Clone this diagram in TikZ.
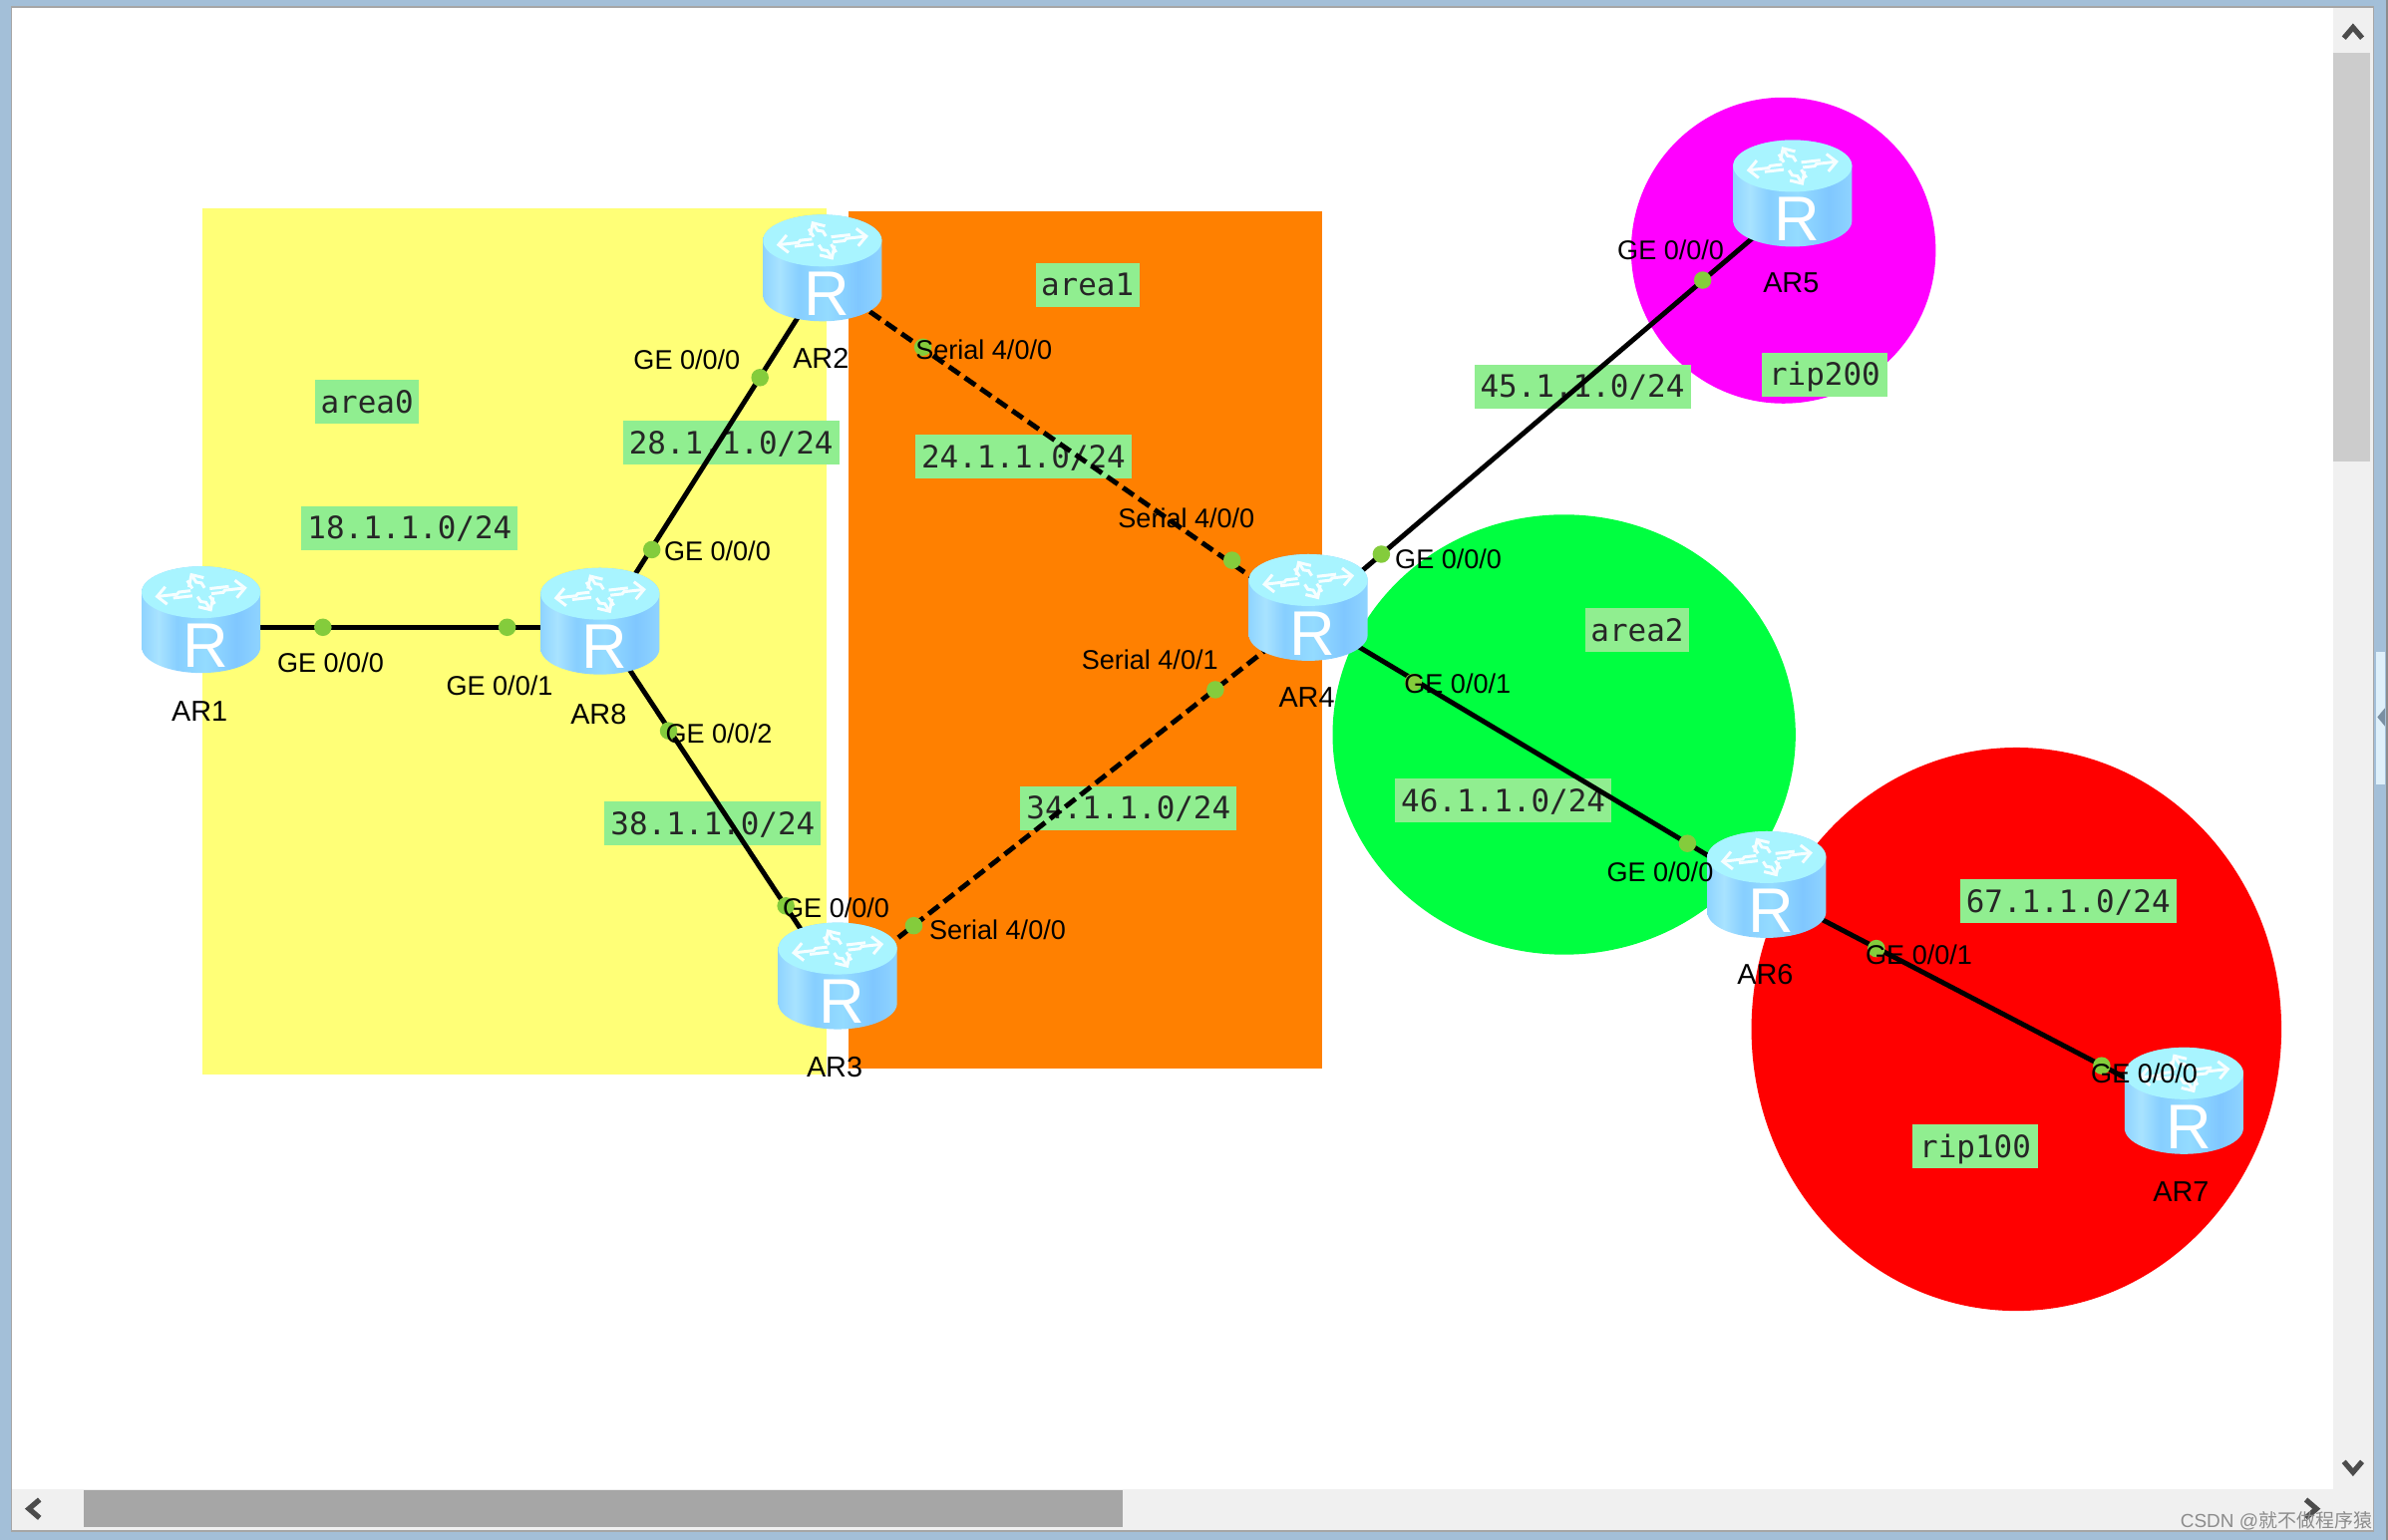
\documentclass[tikz,border=0pt]{standalone}
\usepackage{fontspec}
\setmainfont{Liberation Sans}
\newfontfamily\labelfont{DejaVu Sans Mono}
\newfontfamily\cjk{Noto Sans CJK SC}
\usetikzlibrary{arrows.meta}
\definecolor{framecol}{HTML}{A3BFD8}
\definecolor{trackcol}{HTML}{F0F0F0}
\definecolor{areayellow}{HTML}{FFFF77}
\definecolor{areaorange}{HTML}{FF8000}
\definecolor{areagreen}{HTML}{00FF40}
\definecolor{areamagenta}{HTML}{FF00FF}
\definecolor{areared}{HTML}{FF0000}
\definecolor{labelgreen}{HTML}{90EE90}
\definecolor{portgreen}{HTML}{84CC3C}
\definecolor{routertop}{HTML}{A8F4FF}
\definecolor{gripcol}{HTML}{DFF0FA}
\pgfdeclarehorizontalshading{routerbody}{100bp}{rgb(0bp)=(0.56,0.83,1);rgb(25bp)=(0.56,0.83,1);rgb(32bp)=(0.66,0.89,1);rgb(40bp)=(0.53,0.81,1);rgb(52bp)=(0.58,0.86,1);rgb(65bp)=(0.50,0.78,1);rgb(75bp)=(0.56,0.83,1);rgb(100bp)=(0.56,0.83,1)}
\tikzset{
  routerbox/.style={minimum width=1.15cm,minimum height=1.05cm,inner sep=0pt},
  netlabel/.style={fill=labelgreen,font=\labelfont\fontsize{8.8}{10}\selectfont,inner sep=0pt,minimum height=0.44cm,text height=6.5pt,text depth=0.3pt,text=black!85},
  portdot/.style={circle,fill=portgreen,inner sep=0pt,minimum size=0.175cm},
  portname/.style={font=\fontsize{7.7}{9}\selectfont,inner sep=0pt},
  routername/.style={font=\fontsize{8.2}{10}\selectfont,inner sep=0pt},
  link/.style={line width=1.4pt,black},
  serial/.style={link,dash pattern=on 3.7pt off 1.8pt},
  pics/router/.style={code={
    \path[shading=routerbody] (-39,-18) arc[start angle=180,end angle=360,x radius=39,y radius=17] -- (39,18)
      arc[start angle=0,end angle=180,x radius=39,y radius=17] -- cycle;
    \fill[routertop] (0,-18) circle[x radius=39,y radius=17];
    \foreach \turn in {15,105,195,285}{
      \begin{scope}[shift={(0,-18)},yscale=0.42,rotate=\turn]
        \draw[white!90!routertop,line width=0.85pt,-{Straight Barb[length=2.6pt,width=5pt]}] (6,4) -- (14,4) -- (16,1) -- (31,1);
        \draw[white!90!routertop,line width=0.85pt] (7,-4) -- (20,-4);
      \end{scope}
    }
    \node[text=white,font=\fontsize{18}{18}\selectfont,inner sep=0pt] (-letter) at (3,17) {R};
  }},
}
\begin{document}
\begin{tikzpicture}[x=0.015274cm,y=-0.015274cm]
\useasboundingbox (0,0) rectangle (1568,1011.5);
% window
\fill[framecol] (0,0) rectangle (1568,1011.5);
\fill[gray!70] (7,4) rectangle (1559,1006);
\fill[black!45] (1566.5,0) rectangle (1568,1011.5);
\fill[gripcol] (1560,428) rectangle (1566,515);
\fill[framecol!75!black] (1566,465) -- (1561,471) -- (1566,477) -- cycle;
\fill[trackcol] (8,5) rectangle (1558,1005);
\fill[white] (8,5) rectangle (1532,978);
\fill[black!20] (1532,35) rectangle (1556,303);
\fill[black!35] (55,979) rectangle (737,1003);
\draw[black!70,line width=1.5pt] (1539,25) -- (1545,18) -- (1551,25);
\draw[black!70,line width=1.5pt] (1539,960) -- (1545,967) -- (1551,960);
\draw[black!70,line width=1.5pt] (26,985) -- (19,991) -- (26,997);
\draw[black!70,line width=1.5pt] (1514,985) -- (1521,991) -- (1514,997);
% areas
\fill[areayellow] (133,137) rectangle (543,706);
\fill[areaorange] (557,139) rectangle (868,702);
\fill[areamagenta] (1171,164.5) circle[x radius=100,y radius=100.5];
\fill[areagreen] (1027,482.5) circle[x radius=152,y radius=144.5];
\fill[areared] (1324,676) circle[x radius=174,y radius=185];
% network labels
\node[netlabel,minimum width=1.04cm] (area0) at (241,264) {area0};
\node[netlabel,minimum width=2.17cm] (net18) at (269,347) {18.1.1.0/24};
\node[netlabel,minimum width=2.17cm] (net28) at (480,291) {28.1.1.0/24};
\node[netlabel,minimum width=2.17cm] (net24) at (672,300) {24.1.1.0/24};
\node[netlabel,minimum width=1.04cm] (area1) at (714,187) {area1};
\node[netlabel,minimum width=2.17cm] (net38) at (468,541) {38.1.1.0/24};
\node[netlabel,minimum width=2.17cm] (net34) at (741,531) {34.1.1.0/24};
\node[netlabel,minimum width=2.17cm] (net45) at (1039,254) {45.1.1.0/24};
\node[netlabel,minimum width=1.26cm] (rip200) at (1198,246) {rip200};
\node[netlabel,minimum width=1.04cm] (area2) at (1075,414) {area2};
\node[netlabel,minimum width=2.17cm] (net46) at (987,526) {46.1.1.0/24};
\node[netlabel,minimum width=2.17cm] (net67) at (1358,592) {67.1.1.0/24};
\node[netlabel,minimum width=1.26cm] (rip100) at (1297,753) {rip100};
% routers
\node[routerbox] (ar1) at (132,412) {};
\node[routerbox] (ar8) at (395,412) {};
\node[routerbox] (ar2) at (540,183) {};
\node[routerbox] (ar3) at (550,647) {};
\node[routerbox] (ar4) at (859,405) {};
\node[routerbox] (ar5) at (1177,134) {};
\node[routerbox] (ar6) at (1160,585) {};
\node[routerbox] (ar7) at (1434,728) {};
% links
\draw[link] (ar1.center) -- (ar8.center);
\draw[link] (ar8.center) -- (ar2.center);
\draw[link] (ar8.center) -- (ar3.center);
\draw[serial] (ar2.center) -- (ar4.center);
\draw[serial] (ar3.center) -- (ar4.center);
\draw[link] (ar4.center) -- (ar5.center);
\draw[link] (ar4.center) -- (ar6.center);
\draw[link] (ar6.center) -- (ar7.center);
% ports
\node[portdot] (p1) at (212,412) {};
\node[portdot] (p2) at (333,412) {};
\node[portdot] (p3) at (428,361) {};
\node[portdot] (p4) at (499,248) {};
\node[portdot] (p5) at (439,480) {};
\node[portdot] (p6) at (516,595) {};
\node[portdot] (p7) at (606,228) {};
\node[portdot] (p8) at (809,368) {};
\node[portdot] (p9) at (600,608) {};
\node[portdot] (p10) at (798,453) {};
\node[portdot] (p11) at (907,364) {};
\node[portdot] (p12) at (1118,184) {};
\node[portdot] (p13) at (928,448) {};
\node[portdot] (p14) at (1108,554) {};
\node[portdot] (p15) at (1232,623) {};
\node[portdot] (p16) at (1380,700) {};
\pic (r1) at (132,407) {router};
\pic (r8) at (394,408) {router};
\pic (r2) at (540,176) {router};
\pic (r3) at (550,641) {router};
\pic (r4) at (859,399) {router};
\pic (r5) at (1177,127) {router};
\pic (r6) at (1160,581) {router};
\pic (r7) at (1434,723) {router};
% router names
\node[routername] (name1) at (131,467) {AR1};
\node[routername] (name8) at (393,469) {AR8};
\node[routername] (name2) at (539,235) {AR2};
\node[routername] (name3) at (548,701) {AR3};
\node[routername] (name4) at (858,458) {AR4};
\node[routername] (name5) at (1176,186) {AR5};
\node[routername] (name6) at (1159,640) {AR6};
\node[routername] (name7) at (1432,783) {AR7};
% port names
\node[portname] (port1) at (217,435) {GE 0/0/0};
\node[portname] (port2) at (328,450) {GE 0/0/1};
\node[portname] (port3) at (471,362) {GE 0/0/0};
\node[portname] (port4) at (451,236) {GE 0/0/0};
\node[portname] (port5) at (472,482) {GE 0/0/2};
\node[portname] (port6) at (549,596) {GE 0/0/0};
\node[portname] (port7) at (646,230) {Serial 4/0/0};
\node[portname] (port8) at (779,340) {Serial 4/0/0};
\node[portname] (port9) at (655,611) {Serial 4/0/0};
\node[portname] (port10) at (755,433) {Serial 4/0/1};
\node[portname] (port11) at (951,367) {GE 0/0/0};
\node[portname] (port12) at (1097,164) {GE 0/0/0};
\node[portname] (port13) at (957,449) {GE 0/0/1};
\node[portname] (port14) at (1090,573) {GE 0/0/0};
\node[portname] (port15) at (1260,627) {GE 0/0/1};
\node[portname] (port16) at (1408,705) {GE 0/0/0};
% watermark
\node[text=black!45,font=\fontsize{5.4}{7}\selectfont,inner sep=0pt,anchor=east] (mark) at (1558,999) {CSDN @{\cjk 就不做程序猿}};
\end{tikzpicture}
\end{document}
